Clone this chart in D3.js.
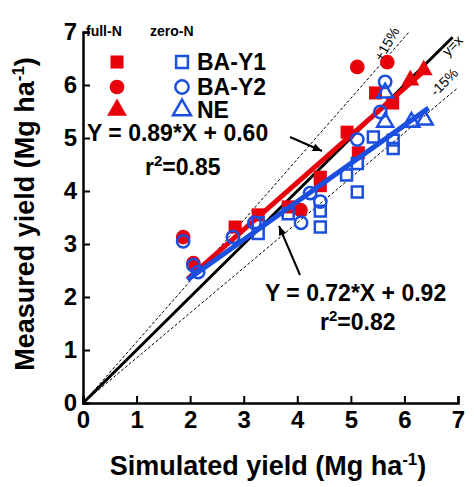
<!DOCTYPE html><html><head><script src="https://cdn.jsdelivr.net/npm/d3@7"></script>
<style>body{margin:0;background:#fff}text{font-family:"Liberation Sans",Arial,sans-serif;font-weight:bold}</style></head><body><svg id="c" width="474" height="487"></svg><script>
const ticks=[0,1,2,3,4,5,6,7];
const fullSq=[[2.84,3.32],[3.27,3.55],[3.83,3.70],[4.43,4.26],[4.43,4.1],[4.93,5.11],[5.14,4.72],[5.46,5.85],[5.78,5.66]];
const fullCi=[[1.87,3.13],[2.06,2.64],[4.06,3.64],[5.12,6.34],[5.68,6.43]];
const fullTr=[[6.11,6.09],[6.36,6.28]];
const zeroSq=[[3.27,3.2],[3.27,3.4],[3.83,3.57],[4.43,3.32],[4.43,3.62],[4.92,4.3],[5.12,3.98],[5.12,4.52],[5.42,5.02],[5.79,4.96],[5.79,4.8]];
const zeroCi=[[1.87,3.05],[2.06,2.6],[2.15,2.47],[2.8,3.13],[3.2,3.4],[4.07,3.4],[4.24,3.96],[4.43,3.8],[5.12,4.97],[5.55,5.49],[5.64,6.06]];
const zeroTr=[[5.64,5.85],[5.64,5.3],[6.13,5.3],[6.38,5.34]];
const fitFull=[0.89,0.60],fitZero=[0.72,0.92];
const svg=d3.select("#c");
const x=d3.scaleLinear([0,7],[83,458]),y=d3.scaleLinear([0,7],[403,32]);
const RED="#e8000b",BLUE="#1a4fe0";
svg.append("g").attr("transform","translate(0,403)").call(d3.axisBottom(x).tickValues(ticks).tickSize(-7).tickPadding(8).tickFormat(d3.format("d"))).call(g=>{g.select(".domain").attr("stroke-width",2.5);g.selectAll("line").attr("stroke-width",2);g.selectAll("text").style("font-size","24px")});
svg.append("g").attr("transform","translate(83,0)").call(d3.axisLeft(y).tickValues(ticks).tickSize(-7).tickPadding(6).tickFormat(d3.format("d"))).call(g=>{g.select(".domain").attr("stroke-width",2.5);g.selectAll("line").attr("stroke-width",2);g.selectAll("text").style("font-size","24px")});
const ln=d3.line().x(d=>x(d[0])).y(d=>y(d[1]));
svg.append("clipPath").attr("id","cp").append("rect").attr("x",83).attr("y",32).attr("width",375).attr("height",371);
const g=svg.append("g").attr("clip-path","url(#cp)");
g.append("path").attr("d",ln([[0,0],[7,8.05]])).attr("stroke","#000").attr("stroke-dasharray","3,2").attr("fill","none");
g.append("path").attr("d",ln([[0,0],[7,5.95]])).attr("stroke","#000").attr("stroke-dasharray","3,2").attr("fill","none");
g.append("path").attr("d",ln([[0,0],[6.9,6.9]])).attr("stroke","#000").attr("stroke-width",3).attr("fill","none");
const sym=(data,type,color,filled,size)=>svg.append("g").selectAll("path").data(data).join("path").attr("transform",d=>`translate(${x(d[0])},${y(d[1])})`).attr("d",d3.symbol(type,size)).attr("fill",filled?color:"none").attr("stroke",color).attr("stroke-width",filled?0:2.5);
sym(fullSq,d3.symbolSquare,RED,true,170);sym(fullCi,d3.symbolCircle,RED,true,170);sym(fullTr,d3.symbolTriangle,RED,true,140);
svg.append("path").attr("d",ln([[1.95,fitFull[0]*1.95+fitFull[1]],[6.4,fitFull[0]*6.4+fitFull[1]]])).attr("stroke",RED).attr("stroke-width",5).attr("fill","none");
sym(zeroSq,d3.symbolSquare,BLUE,false,120);sym(zeroCi,d3.symbolCircle,BLUE,false,120);sym(zeroTr,d3.symbolTriangle,BLUE,false,110);
svg.append("path").attr("d",ln([[1.95,fitZero[0]*1.95+fitZero[1]],[6.45,fitZero[0]*6.45+fitZero[1]]])).attr("stroke",BLUE).attr("stroke-width",5).attr("fill","none");
const t=(s,xx,yy,fs,a)=>svg.append("text").attr("x",xx).attr("y",yy).style("font-size",fs+"px").attr("text-anchor",a||"start").text(s);
t("full-N",86,36,14);t("zero-N",150,36,14);
[[d3.symbolSquare,"BA-Y1",62],[d3.symbolCircle,"BA-Y2",87],[d3.symbolTriangle,"NE",110]].forEach(([s,l,yy])=>{
svg.append("path").attr("transform",`translate(117,${yy})`).attr("d",d3.symbol(s,170)).attr("fill",RED);
svg.append("path").attr("transform",`translate(182,${yy})`).attr("d",d3.symbol(s,140)).attr("fill","none").attr("stroke",BLUE).attr("stroke-width",2.5);
t(l,197,yy+8,23);});
t("Y = 0.89*X + 0.60",87,141,23);
svg.append("text").attr("x",145).attr("y",175).style("font-size","23px").html('r<tspan dy="-9" font-size="15">2</tspan><tspan dy="9">=0.85</tspan>');
t("Y = 0.72*X + 0.92",265,301,23);
svg.append("text").attr("x",320).attr("y",330).style("font-size","23px").html('r<tspan dy="-9" font-size="15">2</tspan><tspan dy="9">=0.82</tspan>');
const arr=(x1,y1,x2,y2)=>{svg.append("line").attr("x1",x1).attr("y1",y1).attr("x2",x2).attr("y2",y2).attr("stroke","#000").attr("stroke-width",2);
const a=Math.atan2(y2-y1,x2-x1);svg.append("path").attr("d",`M${x2},${y2}L${x2-10*Math.cos(a-0.4)},${y2-10*Math.sin(a-0.4)}L${x2-10*Math.cos(a+0.4)},${y2-10*Math.sin(a+0.4)}Z`);};
arr(290,137,322,151);arr(300,275,279,226);
const rt=(s,xx,yy,ang)=>svg.append("text").attr("transform",`translate(${xx},${yy}) rotate(${ang})`).style("font-size","14px").style("font-weight","normal").text(s);
rt("+15%",382,62,-60);rt("y=x",448,57,-45);rt("-15%",436,97,-45);
svg.append("text").attr("x",268).attr("y",475).attr("text-anchor","middle").style("font-size","27px").html('Simulated yield (Mg ha<tspan dy="-10" font-size="17">-1</tspan><tspan dy="10">)</tspan>');
svg.append("text").attr("transform","translate(34,214) rotate(-90)").attr("text-anchor","middle").style("font-size","27px").html('Measured yield (Mg ha<tspan dy="-10" font-size="17">-1</tspan><tspan dy="10">)</tspan>');
</script></body></html>
